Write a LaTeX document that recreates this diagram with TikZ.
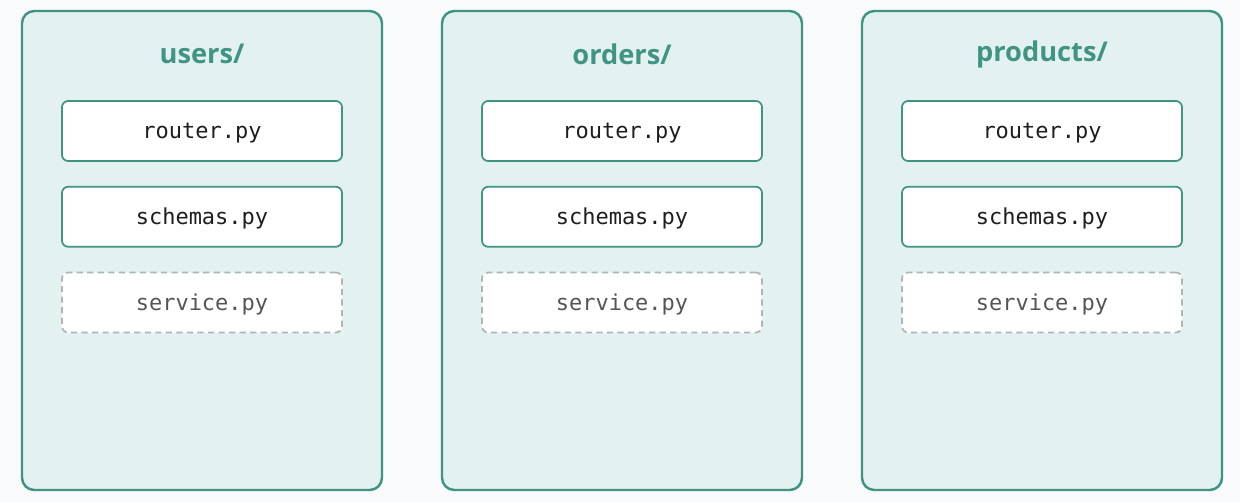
\documentclass[tikz,border=0pt]{standalone}
\usepackage{fontspec}
\setmainfont{Open Sans}
\newfontfamily\codefont{DejaVu Sans Mono}
\usepackage{tikz}
\usetikzlibrary{positioning}
\definecolor{pagebg}{HTML}{F8FAFB}
\definecolor{modteal}{HTML}{3F9483}
\definecolor{modfill}{HTML}{E3F1F1}
\definecolor{stubgray}{HTML}{AEB6B5}
\definecolor{codeink}{HTML}{1E1E1E}
\definecolor{stubink}{HTML}{555555}

\begin{document}
\begin{tikzpicture}[
  module/.style={draw=modteal, line width=1.4pt, rounded corners=7pt, fill=modfill, minimum width=7.2cm, minimum height=9.58cm, inner sep=0pt},
  modtitle/.style={font=\bfseries\fontsize{15.5}{18}\selectfont, text=modteal},
  filebox/.style={draw=modteal, line width=1pt, rounded corners=3.5pt, fill=white, minimum width=5.6cm, minimum height=1.2cm, text height=9pt, text depth=0pt, font=\codefont\fontsize{12.5}{14}\selectfont, text=codeink},
  stubbox/.style={filebox, draw=stubgray, dash pattern=on 3.5pt off 2.5pt, text=stubink}
]
  \fill[pagebg] (0,0) rectangle (24.8,-10.04);
  \useasboundingbox (0,0) rectangle (24.8,-10.04);

  % one panel per package
  \foreach \name/\cx in {users/4.04, orders/12.44, products/20.84}{
    \node[module] (\name) at (\cx,-5.01) {};
    \node[modtitle] (\name-title) at (\cx,-1.08) {\name/};
    \node[filebox] (\name-router) at (\cx,-2.62) {router.py};
    \node[filebox, below=0.48cm of \name-router] (\name-schemas) {schemas.py};
    \node[stubbox, below=0.48cm of \name-schemas] (\name-service) {service.py};
  }
\end{tikzpicture}
\end{document}
